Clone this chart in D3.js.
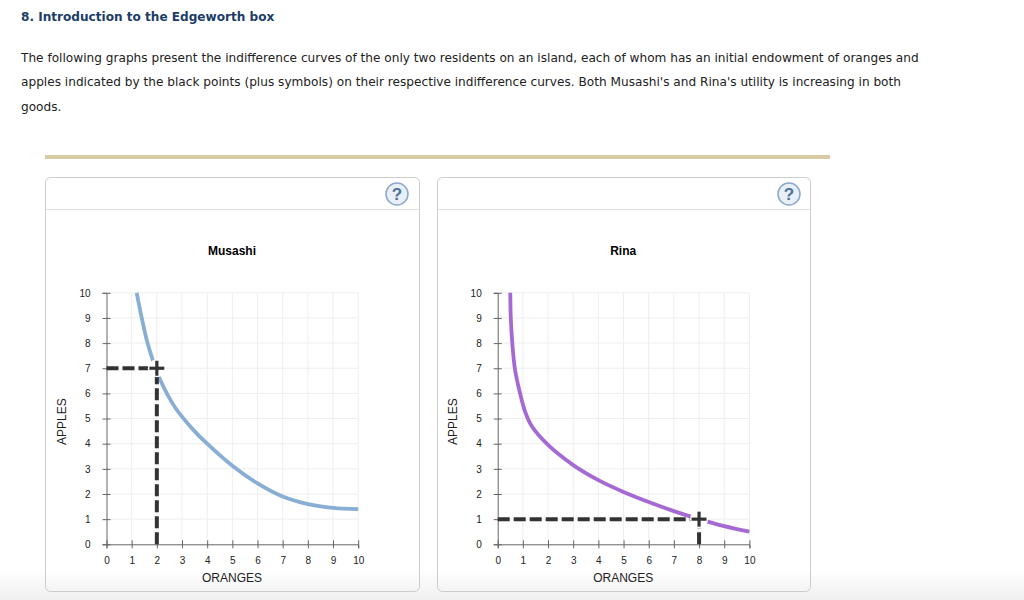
<!DOCTYPE html>
<html>
<head>
<meta charset="utf-8">
<script src="https://cdn.jsdelivr.net/npm/d3@7"></script>
<style>
  html, body { margin: 0; padding: 0; background: #fff; overflow: hidden; }
  text { font-family: "Liberation Sans", Arial, sans-serif; }
  .copy { font-family: "DejaVu Sans", Verdana, sans-serif; font-size: 12.13px; fill: #222; }
  .heading { font-family: "DejaVu Sans", Verdana, sans-serif; font-size: 12.08px; font-weight: bold; fill: #1c3d66; }
  .tick text { font-family: "Liberation Sans", Arial, sans-serif; font-size: 10px; fill: #222; }
</style>
</head>
<body>
<svg id="chart" width="1024" height="600"></svg>
<script>
const heading = "8. Introduction to the Edgeworth box";
const paragraph = [
  "The following graphs present the indifference curves of the only two residents on an island, each of whom has an initial endowment of oranges and",
  "apples indicated by the black points (plus symbols) on their respective indifference curves. Both Musashi's and Rina's utility is increasing in both",
  "goods."
];
const axisTicks = [0, 1, 2, 3, 4, 5, 6, 7, 8, 9, 10];

const musashiOranges = [1.2, 1.4, 1.63, 1.88, 2.15, 2.72, 3.45, 4, 5, 6, 7, 8, 9, 10];
const musashiApples = [10, 9, 8, 7.2, 6.5, 5.45, 4.55, 4, 3.12, 2.42, 1.9, 1.6, 1.45, 1.4];
const musashiEndowment = [2, 7];

const rinaOranges = [0.5, 0.52, 0.58, 0.69, 0.89, 1.08, 1.35, 2, 3, 4, 5, 6, 7, 8, 9, 10];
const rinaApples = [10, 9, 8, 6.93, 6, 5.3, 4.7, 3.95, 3.15, 2.55, 2.08, 1.68, 1.32, 1, 0.72, 0.5];
const rinaEndowment = [8, 1];

const svg = d3.select("#chart");

const pageFade = svg.append("defs").append("linearGradient")
  .attr("id", "pageFade").attr("x1", 0).attr("x2", 0).attr("y1", 0).attr("y2", 1);
pageFade.append("stop").attr("offset", "0%").attr("stop-color", "#fff");
pageFade.append("stop").attr("offset", "100%").attr("stop-color", "#f0f0f0");
svg.append("rect").attr("x", 0).attr("y", 570).attr("width", 1024).attr("height", 30).attr("fill", "url(#pageFade)");

svg.append("text").attr("class", "heading").attr("x", 21).attr("y", 21).text(heading);
svg.selectAll(".copy").data(paragraph).join("text")
  .attr("class", "copy")
  .attr("x", 21)
  .attr("y", (d, i) => 62 + i * 24.3)
  .text(d => d);

svg.append("rect").attr("x", 45).attr("y", 155).attr("width", 785).attr("height", 4).attr("fill", "#d6cba3");

function drawPanel(opts) {
  const g = svg.append("g");
  const panelX = opts.panelX, panelW = opts.panelW;

  g.append("rect").attr("x", panelX + 0.5).attr("y", 177.5).attr("width", panelW).attr("height", 414)
    .attr("rx", 5).attr("fill", "none").attr("stroke", "#ccc");
  g.append("line").attr("x1", panelX + 1).attr("x2", panelX + panelW).attr("y1", 209.5).attr("y2", 209.5)
    .attr("stroke", "#e2e2e2");

  // help button
  const cx = panelX + 352, cy = 194;
  g.append("circle").attr("cx", cx).attr("cy", cy).attr("r", 11).attr("fill", "#e9eff6")
    .attr("stroke", "#8aa8cb").attr("stroke-width", 1.5);
  g.append("text").attr("x", cx).attr("y", cy + 6).attr("text-anchor", "middle")
    .attr("font-size", 17).attr("font-weight", "bold").attr("fill", "#4a719e").text("?");

  const x = d3.scaleLinear().domain([0, 10]).range([opts.plotX, opts.plotX + 251.7]);
  const y = d3.scaleLinear().domain([0, 10]).range([544.3, 292.8]);

  g.append("text").attr("x", opts.plotX + 125.5).attr("y", 255).attr("text-anchor", "middle")
    .attr("font-size", 12).attr("font-weight", "bold").attr("fill", "#000").text(opts.name);

  // grid
  g.append("g").selectAll("line").data(axisTicks.slice(1)).join("line")
    .attr("x1", d => x(d)).attr("x2", d => x(d)).attr("y1", y(0)).attr("y2", y(10))
    .attr("stroke", "#eee");
  g.append("g").selectAll("line").data(axisTicks.slice(1)).join("line")
    .attr("x1", x(0)).attr("x2", x(10)).attr("y1", d => y(d)).attr("y2", d => y(d))
    .attr("stroke", "#eee");

  const xAxis = g.append("g").attr("transform", `translate(0,${y(0)})`)
    .call(d3.axisBottom(x).tickValues(axisTicks).tickFormat(d3.format("d")).tickSize(4).tickPadding(9));
  const yAxis = g.append("g").attr("transform", `translate(${x(0)},0)`)
    .call(d3.axisLeft(y).tickValues(axisTicks).tickFormat(d3.format("d")).tickSize(4).tickPadding(12));
  xAxis.selectAll(".tick line").attr("y1", -4);
  yAxis.selectAll(".tick line").attr("x1", 4).attr("x2", -4);
  g.selectAll(".domain").attr("stroke", "#666");
  g.selectAll(".tick line").attr("stroke", "#666");

  g.append("text").attr("x", opts.plotX + 125.5).attr("y", 582).attr("text-anchor", "middle")
    .attr("font-size", 12).attr("fill", "#222").text("ORANGES");
  g.append("text").attr("transform", `translate(${opts.plotX - 41},${y(5) + 3}) rotate(-90)`)
    .attr("text-anchor", "middle").attr("font-size", 12).attr("fill", "#222").text("APPLES");

  // indifference curve
  const line = d3.line().x(d => x(d[0])).y(d => y(d[1])).curve(d3.curveCatmullRom);
  g.append("path").datum(d3.zip(opts.oranges, opts.apples))
    .attr("d", line).attr("fill", "none").attr("stroke", opts.color).attr("stroke-width", 3.8);

  // dashed guides down to the axes
  const [ex, ey] = opts.endowment;
  g.append("line").attr("x1", x(0)).attr("x2", x(ex)).attr("y1", y(ey)).attr("y2", y(ey))
    .attr("stroke", "#333").attr("stroke-width", 4).attr("stroke-dasharray", "12,4");
  g.append("line").attr("x1", x(ex)).attr("x2", x(ex)).attr("y1", y(0)).attr("y2", y(ey))
    .attr("stroke", "#333").attr("stroke-width", 4).attr("stroke-dasharray", "12,4");

  // plus marker, white patch cuts the curve around it
  const arm = 7.5;
  const mark = g.append("g").attr("transform", `translate(${x(ex)},${y(ey)})`);
  mark.append("circle").attr("r", 9).attr("fill", "#fff");
  mark.append("line").attr("x1", -arm).attr("x2", arm).attr("stroke", "#333").attr("stroke-width", 3.2);
  mark.append("line").attr("y1", -arm).attr("y2", arm).attr("stroke", "#333").attr("stroke-width", 3.2);
}

drawPanel({
  name: "Musashi", panelX: 45, panelW: 374, plotX: 106.5, color: "#89aed4",
  oranges: musashiOranges, apples: musashiApples, endowment: musashiEndowment
});
drawPanel({
  name: "Rina", panelX: 437, panelW: 373, plotX: 497.7, color: "#a569d4",
  oranges: rinaOranges, apples: rinaApples, endowment: rinaEndowment
});
</script>
</body>
</html>
